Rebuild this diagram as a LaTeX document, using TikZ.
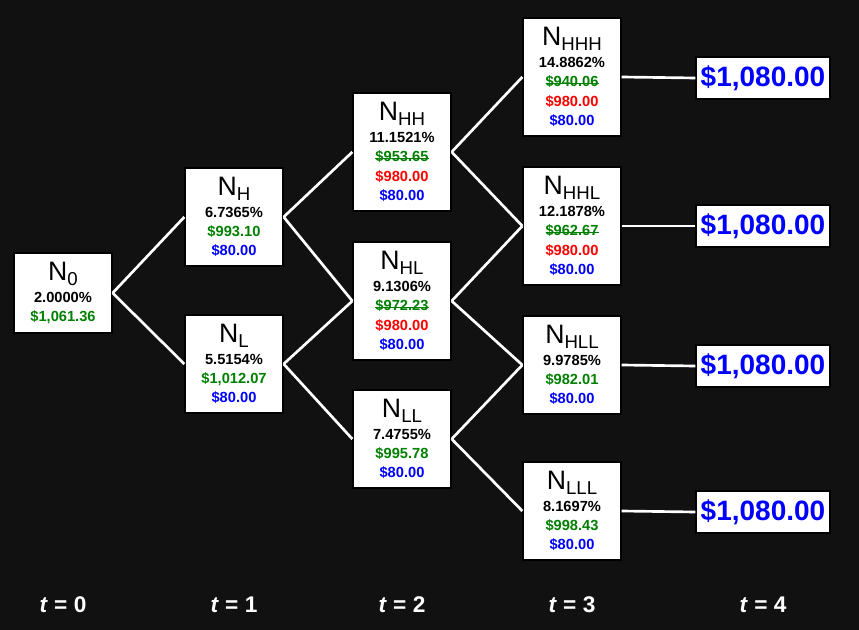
\documentclass[tikz,border=0pt]{standalone}
\usepackage{fontspec}
\setmainfont{Liberation Sans}
\definecolor{bg}{RGB}{17,17,17}
\definecolor{pgreen}{RGB}{0,128,0}
\newcommand{\nname}[1]{{\mdseries\fontsize{20}{20}\selectfont N\raisebox{-0.35ex}{\fontsize{14}{14}\selectfont #1}}\\[2pt]}
\newcommand{\pv}[1]{\textcolor{pgreen}{#1}}
\newsavebox{\strikebox}
\newcommand{\old}[1]{\textcolor{pgreen}{\sbox{\strikebox}{#1}\rlap{\rule[0.35ex]{\wd\strikebox}{0.9pt}}\usebox{\strikebox}}}
\newcommand{\rv}[1]{\textcolor{red}{#1}}
\newcommand{\cv}[1]{\textcolor{blue}{#1}}
\tikzset{
  nd/.style={draw=black, line width=1.5pt, fill=white, align=center,
    minimum width=73pt, inner sep=1pt,
    font=\fontsize{11}{14.5}\selectfont\bfseries},
  fin/.style={draw=black, line width=1.5pt, fill=white, minimum width=100pt,
    minimum height=32pt, inner sep=1pt, text=blue,
    font=\fontsize{21}{21}\selectfont\bfseries},
  br/.style={draw=white, line width=2pt},
  tl/.style={text=white, font=\fontsize{17}{17}\selectfont\bfseries}
}
\begin{document}
\begin{tikzpicture}[x=0.75pt,y=-0.75pt]
  \fill[bg] (0,0) rectangle (859,630);

  %% nodes
  \node[nd, minimum height=60pt] (n0) at (63,293) {\nname{0}2.0000\%\\\pv{\$1,061.36}};
  \node[nd, minimum height=73pt] (nh) at (234,217) {\nname{H}6.7365\%\\\pv{\$993.10}\\\cv{\$80.00}};
  \node[nd, minimum height=73pt] (nl) at (234,364) {\nname{L}5.5154\%\\\pv{\$1,012.07}\\\cv{\$80.00}};
  \node[nd, minimum height=88pt] (nhh) at (402,152) {\nname{HH}11.1521\%\\\old{\$953.65}\\\rv{\$980.00}\\\cv{\$80.00}};
  \node[nd, minimum height=88pt] (nhl) at (402,301) {\nname{HL}9.1306\%\\\old{\$972.23}\\\rv{\$980.00}\\\cv{\$80.00}};
  \node[nd, minimum height=73pt] (nll) at (402,439) {\nname{LL}7.4755\%\\\pv{\$995.78}\\\cv{\$80.00}};
  \node[nd, minimum height=88pt] (nhhh) at (572,77) {\nname{HHH}14.8862\%\\\old{\$940.06}\\\rv{\$980.00}\\\cv{\$80.00}};
  \node[nd, minimum height=88pt] (nhhl) at (572,226) {\nname{HHL}12.1878\%\\\old{\$962.67}\\\rv{\$980.00}\\\cv{\$80.00}};
  \node[nd, minimum height=73pt] (nhll) at (572,365) {\nname{HLL}9.9785\%\\\pv{\$982.01}\\\cv{\$80.00}};
  \node[nd, minimum height=73pt] (nlll) at (572,511) {\nname{LLL}8.1697\%\\\pv{\$998.43}\\\cv{\$80.00}};

  \node[fin] (f1) at (763,78) {\$1,080.00};
  \node[fin] (f2) at (763,226) {\$1,080.00};
  \node[fin] (f3) at (763,366) {\$1,080.00};
  \node[fin] (f4) at (763,512) {\$1,080.00};

  %% branches
  \draw[br] (n0.east) -- (nh.west);
  \draw[br] (n0.east) -- (nl.west);
  \draw[br] (nh.east) -- (nhh.west);
  \draw[br] (nh.east) -- (nhl.west);
  \draw[br] (nl.east) -- (nhl.west);
  \draw[br] (nl.east) -- (nll.west);
  \draw[br] (nhh.east) -- (nhhh.west);
  \draw[br] (nhh.east) -- (nhhl.west);
  \draw[br] (nhl.east) -- (nhhl.west);
  \draw[br] (nhl.east) -- (nhll.west);
  \draw[br] (nll.east) -- (nhll.west);
  \draw[br] (nll.east) -- (nlll.west);
  \draw[br] (nhhh.east) -- (f1.west);
  \draw[br] (nhhl.east) -- (f2.west);
  \draw[br] (nhll.east) -- (f3.west);
  \draw[br] (nlll.east) -- (f4.west);

  %% time axis
  \node[tl] (t0) at (63,605) {\textit{t} = 0};
  \node[tl] (t1) at (234,605) {\textit{t} = 1};
  \node[tl] (t2) at (402,605) {\textit{t} = 2};
  \node[tl] (t3) at (572,605) {\textit{t} = 3};
  \node[tl] (t4) at (763,605) {\textit{t} = 4};
\end{tikzpicture}
\end{document}
